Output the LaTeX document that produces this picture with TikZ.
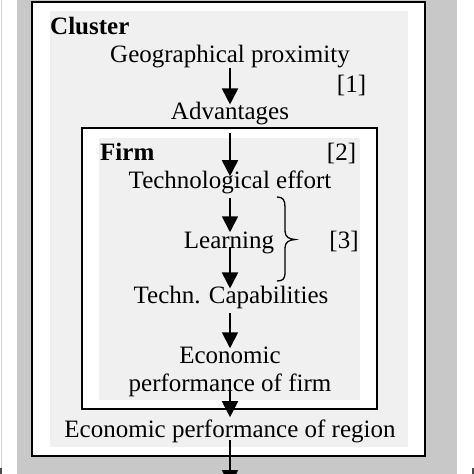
\documentclass[tikz,border=0pt]{standalone}
\usepackage{fontspec}
\setmainfont{Liberation Serif}
\usetikzlibrary{arrows.meta}
\definecolor{bandgray}{RGB}{200,200,200}
\definecolor{panelgray}{RGB}{240,240,240}
\definecolor{edgegray}{RGB}{215,215,215}
\begin{document}
\begin{tikzpicture}[x=1pt,y=-1pt,
  txt/.style={inner sep=0pt, anchor=base, font=\fontsize{25}{30}\selectfont},
  boldtxt/.style={txt, font=\fontsize{25}{30}\selectfont\bfseries},
  flow/.style={line width=1.8pt, -{Triangle[width=16pt,length=16pt]}},
  frame/.style={draw=black, line width=2pt, fill=white},
  panel/.style={fill=panelgray}]
\useasboundingbox (0,0) rectangle (474,474);
% background bands
\fill[bandgray] (17,0) rectangle (457,474);
\draw[edgegray, line width=1.5pt] (1.5,0) -- (1.5,474);
\draw[black!70, line width=1.2pt] (1,468) -- (1,474);
\draw[black!70, line width=1.2pt] (473,468) -- (473,474);
% cluster frame
\draw[frame] (32,1.5) rectangle (425,456);
\fill[panel] (50,11) rectangle (408,447);
% firm frame
\draw[frame] (82,128) rectangle (377,409);
\fill[panel] (99,138) rectangle (360,400);
% texts
\node[boldtxt, anchor=base west] (cluster) at (50,34) {Cluster};
\node[txt] (geo) at (230,62) {Geographical proximity};
\node[txt] (r1) at (351.5,92.5) {[1]};
\node[txt] (adv) at (230,119) {Advantages};
\node[boldtxt, anchor=base west] (firm) at (100,160) {Firm};
\node[txt] (r2) at (341.5,160.5) {[2]};
\node[txt] (effort) at (230,188) {Technological effort};
\node[txt] (learn) at (229,248) {Learning};
\node[txt] (r3) at (344,248) {[3]};
\node[txt] (cap) at (231,303) {Techn. Capabilities};
\node[txt] (econ) at (230,363) {Economic};
\node[txt] (perf) at (230,391) {performance of firm};
\node[txt] (region) at (230,437) {Economic performance of region};
\coordinate (out) at (230,486);
% arrows
\draw[flow, shorten >=-3pt] (geo.south) -- (adv.north);
\draw[flow, shorten <=8.6pt, shorten >=-6pt] (adv.south) -- (adv.south |- effort.north);
\draw[flow, shorten <=4.6pt, shorten >=-1pt] (effort.south) -- (effort.south |- learn.north);
\draw[flow, shorten <=-6.4pt, shorten >=-3pt] (effort.south |- learn.south) -- (effort.south |- cap.north);
\draw[flow, shorten <=4.6pt, shorten >=-2pt] (effort.south |- cap.south) -- (econ.north);
\draw[flow, shorten <=6pt, shorten >=2pt] (perf.north) -- (region.north);
\draw[flow, shorten <=-2.4pt] (region.south) -- (out);
% brace
\draw[line width=1.3pt] (277,197) .. controls (283,197) and (285,200) .. (285,207)
  -- (285,231) .. controls (285,237) and (289,239) .. (295,239.5)
  .. controls (289,240) and (285,242) .. (285,248)
  -- (285,272) .. controls (285,279) and (283,281) .. (277,281);
\end{tikzpicture}
\end{document}
